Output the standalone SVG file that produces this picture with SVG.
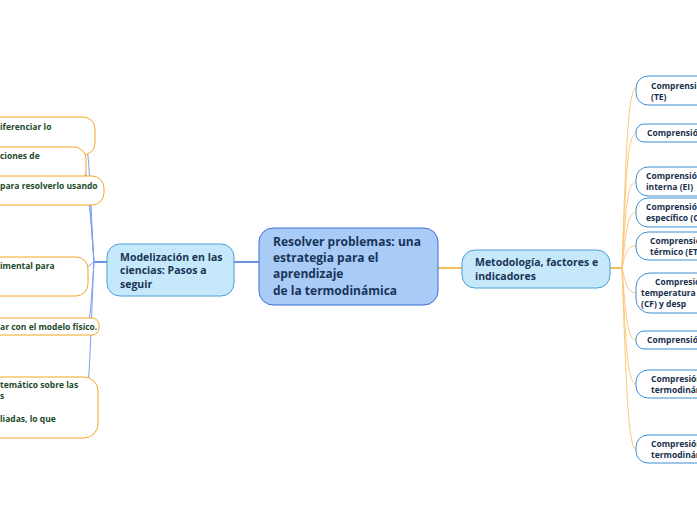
<svg xmlns="http://www.w3.org/2000/svg" width="697" height="520" viewBox="0 0 697 520">
<style>
text{font-family:"Open Sans","Noto Sans",sans-serif;font-weight:bold}
.lb{fill:#fff;stroke:#f5a623;stroke-width:1}
.rb{fill:#fff;stroke:#3d8fd1;stroke-width:1}
.lt{font-size:8.5px;fill:#1d4a2a}
.rt{font-size:8.5px;fill:#1a2f4d}
.bc{fill:none;stroke:#7a9ef5;stroke-width:1}
.oc{fill:none;stroke:#fcc97a;stroke-width:1}
</style>
<rect width="697" height="520" fill="#fff"/>
<g id="connectors">
<path d="M234 262 H259" stroke="#3b6fd6" stroke-width="1.5" fill="none"/>
<path d="M438 268 H462" stroke="#f5a623" stroke-width="1.5" fill="none"/>
<path d="M107 262 H94" stroke="#3b6fd6" stroke-width="1.5" fill="none"/>
<path class="bc" d="M94 262 C90 200 90 140 82 128"/>
<path class="bc" d="M94 262 C90 210 88 165 80 158"/>
<path class="bc" d="M94 262 C91 220 90 195 84 188"/>
<path class="bc" d="M94 262 C90 264 88 268 82 270"/>
<path class="bc" d="M94 262 C91 300 91 320 86 328"/>
<path class="bc" d="M94 262 C90 340 90 400 84 394"/>
<path d="M610 268 H622" stroke="#f5a623" stroke-width="1.5" fill="none"/>
<path class="oc" d="M622 268 C626 150 628 90 636 88"/>
<path class="oc" d="M622 268 C626 170 628 135 636 133"/>
<path class="oc" d="M622 268 C626 200 628 183 636 182"/>
<path class="oc" d="M622 268 C626 230 628 213 636 212"/>
<path class="oc" d="M622 268 C626 250 628 246 636 246"/>
<path class="oc" d="M622 268 C626 285 628 293 636 293"/>
<path class="oc" d="M622 268 C626 320 628 340 636 340"/>
<path class="oc" d="M622 268 C626 350 628 384 636 384"/>
<path class="oc" d="M622 268 C626 380 628 449 636 449"/>
</g>
<g id="central"><rect x="259" y="228" width="179" height="77" rx="14" fill="#a8cbf8" stroke="#3b6fd6" stroke-width="1"/>
<text font-size="12" fill="#1a3456"><tspan x="273" y="246">Resolver problemas: una</tspan><tspan x="273" y="262">estrategia para el</tspan><tspan x="273" y="278">aprendizaje</tspan><tspan x="273" y="295">de la termodinámica</tspan></text></g>
<g id="modelizacion"><rect x="107" y="244" width="127" height="52" rx="13" fill="#c6e8fb" stroke="#4a9fd8"/>
<text font-size="10.5" fill="#1a3456"><tspan x="120" y="261">Modelización en las</tspan><tspan x="120" y="274">ciencias: Pasos a</tspan><tspan x="120" y="288">seguir</tspan></text></g>
<g id="metodologia"><rect x="462" y="250" width="148" height="38" rx="13" fill="#c6e8fb" stroke="#4a9fd8"/>
<text font-size="10.5" fill="#1a3456"><tspan x="475" y="266">Metodología, factores e</tspan><tspan x="475" y="280">indicadores</tspan></text></g>
<g id="l1"><rect class="lb" x="-100" y="117" width="195" height="38" rx="12"/><text class="lt" x="0" y="130">iferenciar lo</text></g>
<g id="l2"><rect class="lb" x="-100" y="147" width="186" height="36" rx="12"/><text class="lt" x="0" y="159">ciones de</text></g>
<g id="l3"><rect class="lb" x="-100" y="176" width="204" height="29" rx="12"/><text class="lt" x="0" y="189">para resolverlo usando</text></g>
<g id="l4"><rect class="lb" x="-100" y="257" width="188" height="39" rx="12"/><text class="lt" x="0" y="269">imental para</text></g>
<g id="l5"><rect class="lb" x="-100" y="318" width="199" height="17" rx="7"/><text class="lt" x="0" y="330">ar con el modelo físico.</text></g>
<g id="l6"><rect class="lb" x="-100" y="377" width="198" height="61" rx="14"/><text class="lt"><tspan x="0" y="388">temático sobre las</tspan><tspan x="0" y="399">s</tspan><tspan x="0" y="422">liadas, lo que</tspan></text></g>
<g id="r1"><rect class="rb" x="636" y="76" width="120" height="29" rx="12"/><text class="rt"><tspan x="651" y="89">Comprensión</tspan><tspan x="651" y="100">(TE)</tspan></text></g>
<g id="r2"><rect class="rb" x="636" y="124" width="120" height="18" rx="8"/><text class="rt" x="647" y="136">Comprensión</text></g>
<g id="r3"><rect class="rb" x="636" y="167" width="120" height="29" rx="12"/><text class="rt"><tspan x="646" y="179">Comprensión</tspan><tspan x="646" y="190">interna (EI)</tspan></text></g>
<g id="r4"><rect class="rb" x="636" y="198" width="120" height="29" rx="12"/><text class="rt"><tspan x="646" y="210">Comprensión</tspan><tspan x="646" y="221">específico (CE)</tspan></text></g>
<g id="r5"><rect class="rb" x="636" y="232" width="120" height="28" rx="12"/><text class="rt"><tspan x="650" y="244">Comprensión</tspan><tspan x="650" y="255">térmico (ET)</tspan></text></g>
<g id="r6"><rect class="rb" x="636" y="273" width="120" height="40" rx="14"/><text class="rt"><tspan x="655" y="285">Compresión</tspan><tspan x="641" y="296">temperatura</tspan><tspan x="641" y="307">(CF) y desp</tspan></text></g>
<g id="r7"><rect class="rb" x="636" y="331" width="120" height="18" rx="8"/><text class="rt" x="647" y="343">Comprensión</text></g>
<g id="r8"><rect class="rb" x="636" y="370" width="120" height="28" rx="12"/><text class="rt"><tspan x="651" y="382">Compresión</tspan><tspan x="651" y="393">termodinámica</tspan></text></g>
<g id="r9"><rect class="rb" x="636" y="435" width="120" height="28" rx="12"/><text class="rt"><tspan x="651" y="447">Compresión</tspan><tspan x="651" y="458">termodinámica</tspan></text></g>
</svg>
